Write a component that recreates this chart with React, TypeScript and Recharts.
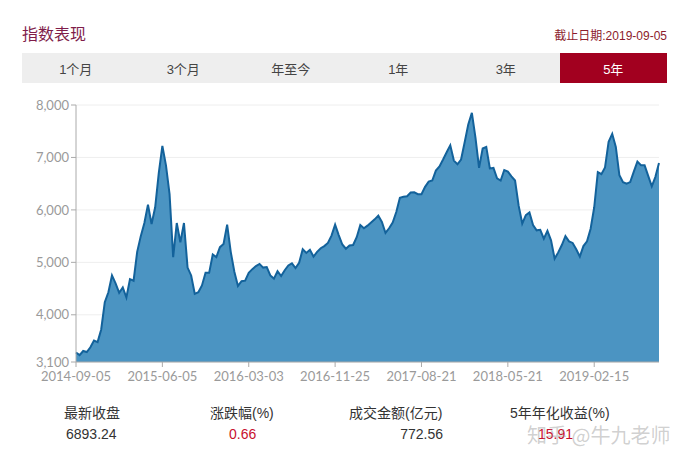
import React from 'react';
import { AreaChart, Area, XAxis, YAxis, CartesianGrid } from 'recharts';

// closing values, one point every ~7.5 trading days (2014-09-05 .. 2019-09-05)
const closeValues = [
  3280, 3230, 3310, 3290, 3380, 3510, 3480, 3720, 4240, 4430,
  4750, 4600, 4420, 4520, 4330, 4680, 4650, 5200, 5500, 5750,
  6100, 5730, 6050, 6700, 7220, 6850, 6300, 5100, 5750, 5380,
  5750, 4900, 4750, 4400, 4430, 4560, 4800, 4800, 5150, 5100,
  5290, 5350, 5720, 5200, 4820, 4550, 4640, 4650, 4800, 4870,
  4930, 4970, 4900, 4910, 4750, 4690, 4830, 4740, 4850, 4940,
  4980, 4890, 4990, 5250, 5180, 5240, 5110, 5200, 5270, 5310,
  5370, 5510, 5720, 5520, 5340, 5260, 5320, 5330, 5480, 5710,
  5650, 5700, 5760, 5820, 5890, 5770, 5560, 5650, 5760, 5960,
  6230, 6250, 6260, 6330, 6335, 6300, 6300, 6440, 6540, 6560,
  6750, 6830, 6960, 7100, 7230, 6940, 6870, 6960, 7290, 7630,
  7850, 7380, 6800, 7170, 7200, 6790, 6800, 6600, 6560, 6760,
  6730, 6640, 6560, 6080, 5740, 5900, 5950, 5710, 5610, 5620,
  5450, 5600, 5420, 5070, 5190, 5330, 5500, 5400, 5370, 5250,
  5110, 5310, 5400, 5640, 6050, 6720, 6680, 6810, 7300, 7450,
  7200, 6660, 6530, 6500, 6530, 6730, 6920, 6850, 6850, 6650,
  6450, 6630, 6893,
];

const dateTicks = [0, 24, 48, 72, 96, 120, 144];
const dateLabels = [
  '2014-09-05',
  '2015-06-05',
  '2016-03-03',
  '2016-11-25',
  '2017-08-21',
  '2018-05-21',
  '2019-02-15',
];
const valueTicks = [3100, 4000, 5000, 6000, 7000, 8000];

const tabs = ['1个月', '3个月', '年至今', '1年', '3年', '5年'];
const activeTab = '5年';

const statLabels = ['最新收盘', '涨跌幅(%)', '成交金额(亿元)', '5年年化收益(%)'];
const statValues = ['6893.24', '0.66', '772.56', '15.91'];

const chartData = closeValues.map((v, i) => ({ idx: i, close: v }));

const cjk = '"Liberation Sans", "Noto Sans CJK SC", sans-serif';
const axisTick = { fill: '#9a9a9a', fontSize: 13, fontFamily: 'Lato, sans-serif' };

export default function App() {
  return (
    <div
      style={{
        position: 'absolute',
        left: 0,
        top: 0,
        width: 689,
        height: 458,
        background: '#fff',
        fontFamily: cjk,
        overflow: 'hidden',
      }}
    >
      {/* Header */}
      <div style={{ position: 'absolute', left: 22, top: 21, fontSize: 16, color: '#7f1d4a' }}>
        指数表现
      </div>
      <div style={{ position: 'absolute', right: 22, top: 26, fontSize: 12, color: '#8c1b2c' }}>
        截止日期:2019-09-05
      </div>

      {/* Range tabs */}
      <div
        style={{
          position: 'absolute',
          left: 22,
          top: 53,
          width: 645,
          height: 30,
          background: '#eeeeee',
          display: 'flex',
        }}
      >
        {tabs.map((t) => (
          <div
            key={t}
            style={{
              flex: 1,
              display: 'flex',
              alignItems: 'center',
              justifyContent: 'center',
              fontSize: 13,
              color: t === activeTab ? '#fff' : '#444',
              background: t === activeTab ? '#a2001f' : 'transparent',
            }}
          >
            {t}
          </div>
        ))}
      </div>

      {/* Chart */}
      <div style={{ position: 'absolute', left: 0, top: 95 }}>
        <AreaChart
          width={689}
          height={297}
          data={chartData}
          margin={{ top: 10, right: 30, bottom: 0, left: 0 }}
        >
          <CartesianGrid horizontal vertical={false} stroke="#eeeeee" />
          <XAxis
            dataKey="idx"
            type="number"
            domain={[0, closeValues.length - 1]}
            ticks={dateTicks}
            tickFormatter={(v) => dateLabels[dateTicks.indexOf(v)] ?? ''}
            height={30}
            tick={axisTick}
            stroke="#aaaaaa"
            tickSize={5}
            tickMargin={5}
            interval={0}
          />
          <YAxis
            type="number"
            domain={[3100, 8000]}
            ticks={valueTicks}
            tickFormatter={(v) => v.toLocaleString('en-US')}
            width={76}
            tick={axisTick}
            stroke="#aaaaaa"
            tickSize={5}
            interval={0}
            allowDataOverflow
          />
          <Area
            type="linear"
            dataKey="close"
            stroke="#13629b"
            strokeWidth={2}
            fill="#4b94c2"
            fillOpacity={1}
            dot={false}
            activeDot={false}
            isAnimationActive={false}
          />
        </AreaChart>
      </div>

      {/* Stats */}
      <div style={{ position: 'absolute', left: 64, top: 402, fontSize: 14, color: '#333' }}>
        {statLabels[0]}
      </div>
      <div style={{ position: 'absolute', left: 66, top: 426, fontSize: 14, color: '#333' }}>
        {statValues[0]}
      </div>
      <div style={{ position: 'absolute', left: 210, top: 402, fontSize: 14, color: '#333' }}>
        {statLabels[1]}
      </div>
      <div style={{ position: 'absolute', left: 229, top: 426, fontSize: 14, color: '#c8102e' }}>
        {statValues[1]}
      </div>
      <div style={{ position: 'absolute', left: 349, top: 402, fontSize: 14, color: '#333' }}>
        {statLabels[2]}
      </div>
      <div
        style={{
          position: 'absolute',
          right: 689 - 443,
          top: 426,
          fontSize: 14,
          color: '#333',
        }}
      >
        {statValues[2]}
      </div>
      <div style={{ position: 'absolute', left: 510, top: 402, fontSize: 14, color: '#333' }}>
        {statLabels[3]}
      </div>
      <div style={{ position: 'absolute', left: 538, top: 426, fontSize: 14, color: '#c8102e' }}>
        {statValues[3]}
      </div>
      {/* watermark */}
      <div
        style={{
          position: 'absolute',
          left: 527,
          top: 420,
          fontSize: 20,
          color: 'rgba(150,150,150,0.45)',
          fontFamily: '"Noto Sans CJK SC", sans-serif',
          whiteSpace: 'nowrap',
        }}
      >
        知乎 @牛九老师
      </div>
    </div>
  );
}
